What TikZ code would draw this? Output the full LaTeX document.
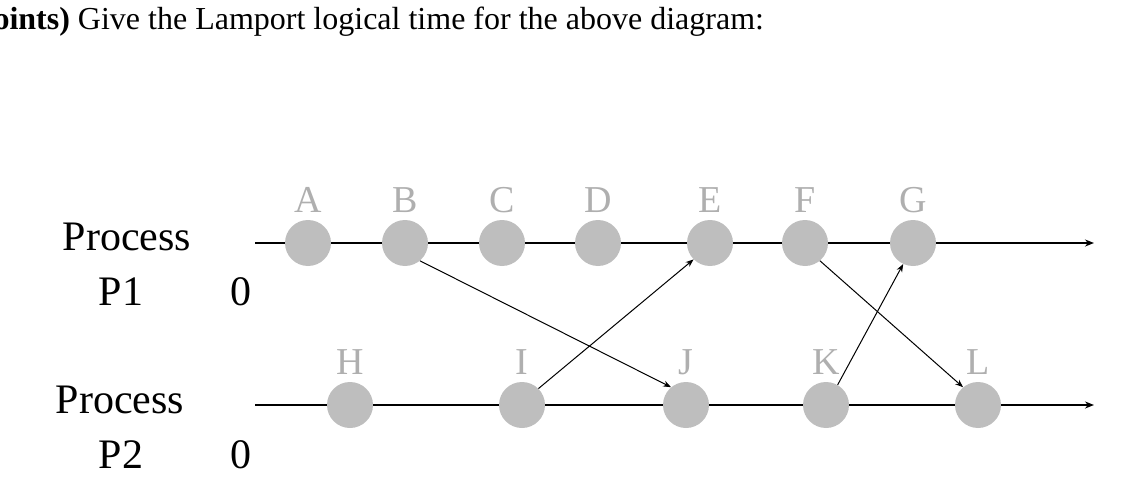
\documentclass[tikz,border=0pt]{standalone}
\usepackage{fontspec}
\setmainfont{Liberation Serif}
\begin{document}
\begin{tikzpicture}[x=1pt,y=-1pt,
  ev/.style={circle,fill=evgray,minimum size=46pt,inner sep=0pt},
  lab/.style={text=labgray,font=\fontsize{38}{38}\selectfont},
  big/.style={font=\fontsize{42}{42}\selectfont},
  msg/.style={-{Stealth[length=8pt,width=6pt]},line width=1pt}]
\usetikzlibrary{arrows.meta}
\definecolor{evgray}{RGB}{190,190,190}
\definecolor{labgray}{RGB}{175,175,175}
\useasboundingbox (0,0) rectangle (1146,492);
\node[anchor=west,font=\fontsize{32}{32}\selectfont] (title) at (-10,22) {\textbf{oints)} Give the Lamport logical time for the above diagram:};
\node[big] (p1a) at (127,237) {Process};
\node[big] (p1b) at (121,292) {P1};
\node[big] (z1) at (241,292) {0};
\node[big] (p2a) at (120,400) {Process};
\node[big] (p2b) at (121,455) {P2};
\node[big] (z2) at (241,455) {0};
\coordinate (s1) at (255,243); \coordinate (e1) at (1094,243);
\coordinate (s2) at (255,405); \coordinate (e2) at (1094,405);
\draw[line width=2.5pt,-{Stealth[length=9pt,width=7pt]}] (s1) -- (e1);
\draw[line width=2.5pt,-{Stealth[length=9pt,width=7pt]}] (s2) -- (e2);
\foreach \n/\x in {A/308,B/405,C/502,D/598,E/710,F/805,G/913}{
  \node[ev] (\n) at (\x,243) {};
  \node[lab] (l\n) at (\x,200) {\n};}
\foreach \n/\x in {H/350,I/522,J/686,K/826,L/978}{
  \node[ev] (\n) at (\x,405) {};
  \node[lab] (l\n) at (\x,362) {\n};}
\draw[msg] (B.-50) -- (J.130);
\draw[msg] (I.45) -- (E.-135);
\draw[msg] (F.-50) -- (L.130);
\draw[msg] (K.60) -- (G.-115);
\end{tikzpicture}
\end{document}
